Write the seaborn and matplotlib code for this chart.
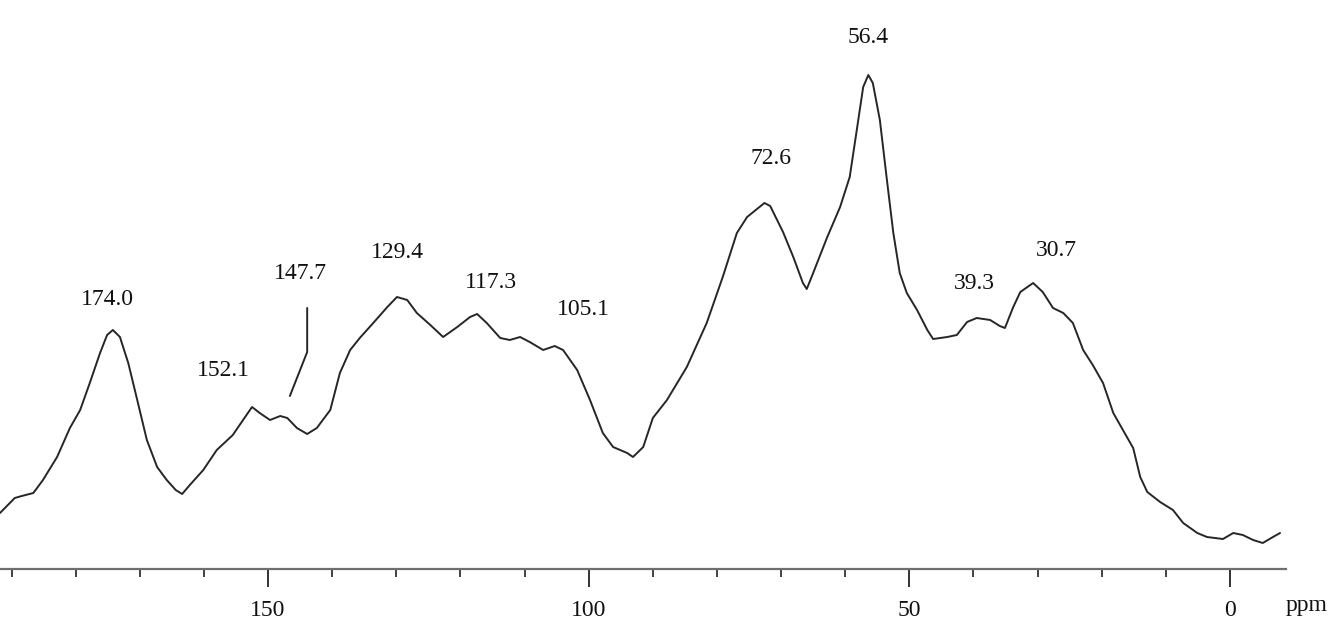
import matplotlib
matplotlib.use("Agg")
import matplotlib.pyplot as plt
import seaborn as sns
import pandas as pd
from matplotlib.ticker import MultipleLocator, FixedLocator

# Chemical shift (ppm) and intensity (arbitrary units)
ppm = [191.8, 189.5, 188.4, 186.6, 185.1, 182.9, 180.9, 179.3, 177.8, 176.2,
       175.1, 174.2, 173.1, 171.8, 170.4, 168.9, 167.3, 165.8, 164.4, 163.4,
       162.2, 160.1, 158.0, 155.5, 153.9, 152.5, 151.3, 149.7, 148.1, 147.0,
       145.5, 143.9, 142.4, 140.3, 138.8, 137.2, 135.7, 133.6, 131.4, 129.9,
       128.3, 126.8, 124.7, 122.7, 120.5, 118.5, 117.4, 115.9, 113.8, 112.3,
       110.7, 109.2, 107.1, 105.3, 104.0, 101.8, 99.8, 97.8, 96.2, 94.0,
       93.1, 91.5, 90.0, 87.8, 84.7, 81.6, 79.1, 76.9, 75.3, 72.6,
       71.7, 69.7, 68.1, 66.6, 66.0, 65.0, 62.8, 60.8, 59.3, 58.2,
       57.2, 56.4, 55.7, 54.6, 53.5, 52.5, 51.5, 50.4, 48.8, 47.2,
       46.3, 44.1, 42.6, 41.0, 39.5, 37.4, 35.9, 35.1, 33.8, 32.7,
       30.7, 29.2, 27.6, 26.0, 24.5, 22.9, 21.4, 19.8, 18.2, 16.7,
       15.1, 14.0, 12.9, 10.9, 8.9, 7.3, 5.1, 3.6, 1.1, -0.5,
       -2.0, -3.6, -5.1, -6.7, -7.8]
intensity = [56, 71, 73, 76, 89, 112, 141, 159, 186, 216,
             234, 239, 232, 206, 169, 129, 102, 89, 79, 75,
             84, 99, 119, 134, 149, 162, 156, 149, 153, 151,
             141, 135, 141, 159, 196, 219, 231, 246, 262, 272,
             269, 256, 244, 232, 242, 252, 255, 246, 231, 229,
             232, 227, 219, 223, 219, 199, 169, 136, 122, 116,
             112, 122, 151, 169, 202, 246, 292, 336, 352, 366,
             363, 337, 312, 286, 280, 296, 332, 362, 392, 439,
             482, 494, 486, 449, 389, 336, 296, 276, 259, 239,
             230, 232, 234, 247, 251, 249, 243, 241, 262, 277,
             286, 277, 261, 256, 246, 219, 204, 186, 156, 139,
             121, 92, 77, 67, 59, 46, 36, 32, 30, 36,
             34, 29, 26, 32, 36]

# Peak labels
peak_labels = ["56.4", "72.6", "30.7", "39.3", "129.4", "117.3", "105.1",
               "147.7", "174.0", "152.1"]
label_x = [56.4, 71.6, 27.0, 39.8, 129.9, 115.2, 100.8, 144.9, 175.1, 157.0]
label_y = [532, 411, 319, 286, 317, 287, 260, 296, 270, 198]

# Leader line for the 147.7 label
leader_x = [143.9, 143.9, 146.6]
leader_y = [261, 217, 173]

major_ticks = [0, 50, 100, 150]
major_labels = ["0", "50", "100", "150"]

sns.set_theme(style="white")
plt.rcParams["font.family"] = ["Liberation Serif", "DejaVu Serif"]

fig = plt.figure(figsize=(13.31, 6.26), dpi=100)
ax = fig.add_axes([0.0, 57 / 626, 1286 / 1331, 569 / 626])

df = pd.DataFrame({"ppm": ppm, "intensity": intensity})
sns.lineplot(data=df, x="ppm", y="intensity", ax=ax, color="#262626",
             linewidth=1.4, estimator=None, sort=False)
ax.plot(leader_x, leader_y, color="#262626", linewidth=1.4)

for t, x, y in zip(peak_labels, label_x, label_y):
    ax.text(x, y, t, ha="center", va="center", fontsize=17, color="#111111")

ax.set_xlim(191.8, -8.73)
ax.set_ylim(0, 569)
ax.set_xlabel("")
ax.set_ylabel("")
ax.set_yticks([])

for s in ["left", "right", "top"]:
    ax.spines[s].set_visible(False)
ax.spines["bottom"].set_color("#6e6e6e")
ax.spines["bottom"].set_linewidth(1.6)

ax.xaxis.set_major_locator(FixedLocator(major_ticks))
ax.set_xticklabels(major_labels)
ax.xaxis.set_minor_locator(MultipleLocator(10))
ax.tick_params(axis="x", which="major", direction="out", length=13, width=1.3,
               color="#222222", labelsize=17, pad=9, labelcolor="#111111",
               bottom=True)
ax.tick_params(axis="x", which="minor", direction="out", length=6, width=1.3,
               color="#333333", bottom=True)

fig.text(1286 / 1331, 1 - 605 / 626, "ppm", ha="left", va="center",
         fontsize=17, color="#111111")

fig.savefig("out.png", dpi=100)
